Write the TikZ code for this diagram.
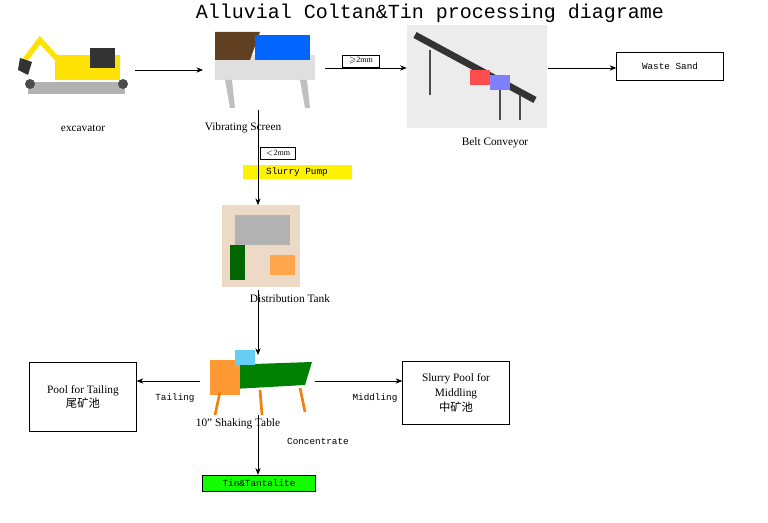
\documentclass[tikz,border=0pt]{standalone}
\usepackage{amssymb}
\usepackage{fontspec}
\setmainfont{Liberation Serif}
\newfontfamily\monof{Liberation Mono}
\newfontfamily\cjk{Noto Sans CJK SC}
\usetikzlibrary{arrows.meta}
\begin{document}
\begin{tikzpicture}[x=0.75pt,y=-0.75pt,
 arr/.style={-{Stealth[length=5pt,width=4pt]},black,line width=0.5pt},
 lab/.style={font=\fontsize{8.5}{10}\selectfont,align=center},
 mono/.style={font=\monof\fontsize{7}{9}\selectfont,align=center},
 box/.style={draw,line width=0.5pt,mono,inner sep=1pt}]
\useasboundingbox (0,0) rectangle (768,523);
% title
\node[font=\monof\fontsize{15}{17}\selectfont] (title) at (430,13) {Alluvial Coltan\&Tin processing diagrame};
% excavator picture
\fill[gray!60] (28,82) rectangle (125,94);
\fill[black!70] (30,84) circle (5) (123,84) circle (5);
\fill[yellow!85!orange] (55,55) rectangle (120,80);
\fill[black!80] (90,48) rectangle (115,68);
\draw[yellow!85!orange,line width=4pt] (60,62) -- (40,40) -- (25,60);
\fill[black!80] (20,58) -- (32,62) -- (28,75) -- (18,70) -- cycle;
\node[inner sep=0,minimum width=110pt,minimum height=60pt] (exc) at (75,65) {};
% vibrating screen picture
\fill[gray!25] (215,55) rectangle (315,80);
\fill[brown!50!black] (215,32) -- (260,32) -- (250,60) -- (215,60) -- cycle;
\fill[blue!60!cyan] (255,35) rectangle (310,60);
\fill[gray!50] (225,80) -- (230,108) -- (235,108) -- (232,80) -- cycle;
\fill[gray!50] (300,80) -- (305,108) -- (310,108) -- (307,80) -- cycle;
\node[inner sep=0,minimum width=88pt,minimum height=60pt] (vs) at (262,70) {};
% belt conveyor picture
\fill[gray!15] (407,25) rectangle (547,128);
\draw[black!80,line width=5pt] (415,35) -- (535,100);
\fill[red!70] (470,70) rectangle (490,85);
\fill[blue!50] (490,75) rectangle (510,90);
\draw[black!70,line width=1.5pt] (430,50) -- (430,95) (500,90) -- (500,120) (520,95) -- (520,120);
\node[inner sep=0,minimum width=105pt,minimum height=77pt] (bc) at (477,76) {};
% distribution tank picture
\fill[brown!30] (222,205) rectangle (300,287);
\fill[gray!60] (235,215) rectangle (290,245);
\fill[green!40!black] (230,245) rectangle (245,280);
\fill[orange!70] (270,255) rectangle (295,275);
\node[inner sep=0,minimum width=58pt,minimum height=61pt] (dt) at (261,246) {};
% shaking table picture
\fill[green!50!black] (225,365) -- (312,362) -- (305,385) -- (215,390) -- cycle;
\fill[orange!80] (210,360) rectangle (240,395);
\fill[cyan!60] (235,350) rectangle (255,365);
\draw[orange!80!brown,line width=2pt] (220,392) -- (215,415) (300,388) -- (305,412) (260,390) -- (262,415);
\node[inner sep=0,minimum width=80pt,minimum height=50pt] (st) at (258,383) {};
% labels
\node[lab] at (83,128) {excavator};
\node[lab] at (243,128) {Vibrating Screen};
\node[lab] at (495,143) {Belt Conveyor};
\node[lab] at (290,299) {Distribution Tank};
\node[lab] at (238,424) {10" Shaking Table};
% boxes
\node[box,minimum width=80pt,minimum height=21pt] (ws) at (670,66) {Waste Sand};
\node[box,fill=yellow,draw=yellow,minimum width=81pt,minimum height=10pt] (sp) at (297,172) {Slurry Pump};
\node[box,font=\fontsize{8.5}{11}\selectfont,minimum width=80pt,minimum height=52pt] (pt) at (83,397) {Pool for Tailing\\{\cjk 尾矿池}};
\node[box,font=\fontsize{8.5}{11}\selectfont,minimum width=80pt,minimum height=47pt] (pm) at (456,393) {Slurry Pool for\\Middling\\{\cjk 中矿池}};
\node[box,fill=green!90!lime,minimum width=85pt,minimum height=12pt] (tt) at (259,483) {Tin\&Tantalite};
% connectors
\draw[arr] (135,70) -- (vs.west |- 0,70);
\draw[arr] (325,68) -- (bc.west |- 0,68);
\node[box,font=\fontsize{6}{7}\selectfont,minimum width=28pt,minimum height=9pt] (g2) at (361,61) {$\geqslant$2mm};
\draw[arr] (548,68) -- (ws.west |- 0,68);
\draw[arr] (258,110) -- (dt.north -| 258,0);
\node[box,font=\fontsize{6}{7}\selectfont,minimum width=26pt,minimum height=9pt] (l2) at (278,153) {$<$2mm};
\draw[arr] (258,290) -- (258,355);
\draw[arr] (200,381) -- (pt.east |- 0,381);
\node[mono] at (175,398) {Tailing};
\draw[arr] (315,381) -- (pm.west |- 0,381);
\node[mono] at (375,398) {Middling};
\draw[arr] (258,415) -- (tt.north -| 258,0);
\node[mono] at (318,441) {Concentrate};
\end{tikzpicture}
\end{document}
